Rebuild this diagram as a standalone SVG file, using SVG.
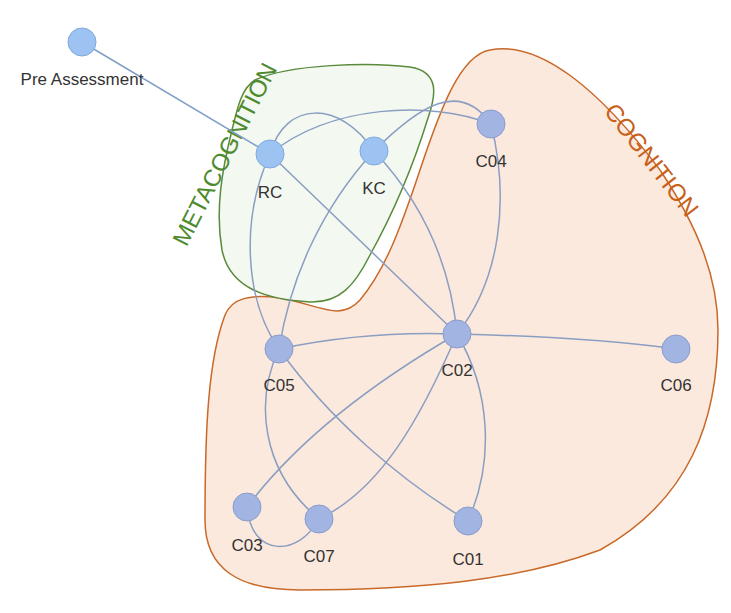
<svg xmlns="http://www.w3.org/2000/svg" width="731" height="613" viewBox="0 0 731 613">
<style>
.e{fill:none;stroke:#8a9ec2;stroke-width:1.5}
.m{fill:#9dc3f2;stroke:#7fa9dc;stroke-width:1}
.c{fill:#a2b4e2;stroke:#8a9ccc;stroke-width:1}
text{font-family:"Liberation Sans",Arial,sans-serif;font-size:17px;fill:#333;text-anchor:middle}
</style>
<rect width="731" height="613" fill="#fff"/>
<g id="cognition">
<path d="M490,50 C540,40 600,90 660,170 C700,230 718,280 718,330 C718,420 690,500 600,550 C520,580 420,590 300,590 C240,590 205,570 205,520 C205,430 208,360 225,315 C232,298 250,294 280,298 C320,305 340,322 360,300 C385,270 400,230 420,170 C440,110 460,55 490,50 Z" fill="#fce9dd" stroke="#c8692a" stroke-width="1.5"/>
<text x="0" y="0" transform="translate(645,165) rotate(52)" style="font-size:24px;fill:#c8601a">COGNITION</text>
</g>
<g id="metacognition">
<path d="M255,80 C290,64 370,62 410,67 C440,72 436,95 428,118 C415,160 395,210 370,255 C355,285 340,303 310,302 C270,300 230,290 222,250 C215,210 222,170 232,130 C238,105 242,88 255,80 Z" fill="#f2f7ef" fill-opacity="0.9" stroke="#5a8b3c" stroke-width="1.5"/>
<text x="0" y="0" transform="translate(232,158) rotate(-63)" style="font-size:24px;fill:#4e8a2e">METACOGNITION</text>
</g>
<g id="connectors">
<path class="e" d="M82,42 L270,154" style="stroke:#7f9fc8"/>
<path class="e" d="M270,154 C285,100 340,100 374,151"/>
<path class="e" d="M270,154 C330,105 430,100 491,124"/>
<path class="e" d="M374,151 C420,105 460,80 491,124"/>
<path class="e" d="M270,154 L457,334"/>
<path class="e" d="M270,154 C240,220 245,300 279,349"/>
<path class="e" d="M374,151 C320,210 290,280 279,349"/>
<path class="e" d="M374,151 C420,200 450,260 457,334"/>
<path class="e" d="M491,124 C510,200 500,280 457,334"/>
<path class="e" d="M279,349 C340,336 400,332 457,334"/>
<path class="e" d="M457,334 C540,336 610,340 676,349"/>
<path class="e" d="M279,349 C255,400 260,470 319,519"/>
<path class="e" d="M279,349 C330,420 400,480 468,521"/>
<path class="e" d="M457,334 C360,390 290,450 247,507"/>
<path class="e" d="M457,334 C420,420 380,490 319,519"/>
<path class="e" d="M457,334 C490,390 495,460 468,521"/>
<path class="e" d="M247,507 C252,560 300,555 319,519"/>
</g>
<g id="pre"><circle class="m" cx="82" cy="42" r="14"/><text x="82" y="85">Pre Assessment</text></g>
<g id="rc"><circle class="m" cx="270" cy="154" r="14"/><text x="270" y="198">RC</text></g>
<g id="kc"><circle class="m" cx="374" cy="151" r="14"/><text x="374" y="194">KC</text></g>
<g id="c04"><circle class="c" cx="491" cy="124" r="14"/><text x="491" y="167">C04</text></g>
<g id="c02"><circle class="c" cx="457" cy="334" r="14"/><text x="457" y="376">C02</text></g>
<g id="c05"><circle class="c" cx="279" cy="349" r="14"/><text x="279" y="391">C05</text></g>
<g id="c06"><circle class="c" cx="676" cy="349" r="14"/><text x="676" y="391">C06</text></g>
<g id="c03"><circle class="c" cx="247" cy="507" r="14"/><text x="247" y="551">C03</text></g>
<g id="c07"><circle class="c" cx="319" cy="519" r="14"/><text x="319" y="562">C07</text></g>
<g id="c01"><circle class="c" cx="468" cy="521" r="14"/><text x="468" y="565">C01</text></g>
</svg>
